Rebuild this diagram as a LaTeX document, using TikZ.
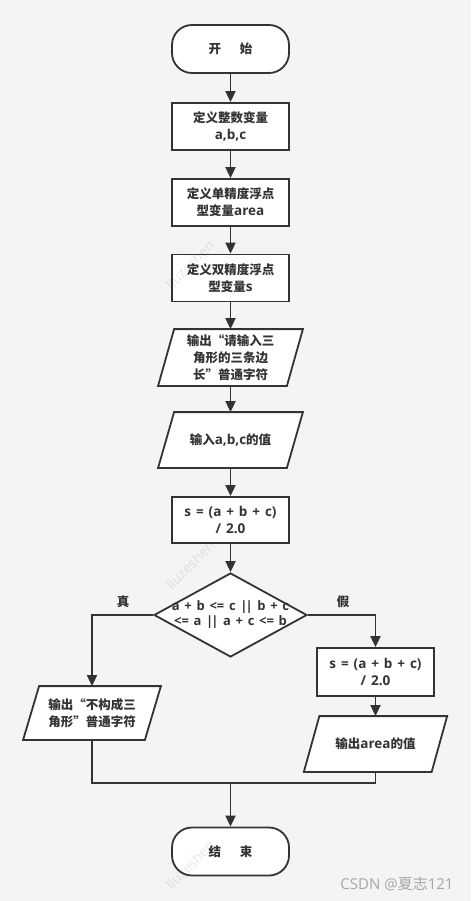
\documentclass[tikz,border=0pt]{standalone}
\usepackage{fontspec}
\setmainfont{Noto Sans CJK SC}
\newfontfamily\lat[Scale=1.08,WordSpace=1.4]{Open Sans}
\newfontfamily\latwm{Open Sans}
\usetikzlibrary{shapes.geometric,arrows.meta}
\pgfdeclarelayer{bg}
\pgfsetlayers{bg,main}
\definecolor{ln}{HTML}{333333}
\definecolor{bgc}{HTML}{F4F4F4}
\definecolor{csdn}{HTML}{A6A6A6}
\tikzset{
  base/.style={draw=ln, line width=1.8pt, fill=white, text=ln, align=center, inner sep=0pt,
    font=\fontsize{12.5}{17}\selectfont\bfseries},
  proc/.style={base, rectangle, minimum width=117pt, minimum height=47pt},
  term/.style={base, rectangle, rounded corners=20pt, minimum width=117pt, minimum height=48pt},
  io/.style={base, rectangle, draw=none, fill=none},
  ioline/.style={draw=ln, line width=1.8pt, fill=white},
  decision/.style={base, diamond, minimum width=153pt, minimum height=84pt},
  dtext/.style={text=ln, align=center, inner sep=0pt, font=\fontsize{12}{15}\selectfont\bfseries},
  lab/.style={text=ln, inner sep=0pt, font=\fontsize{12.5}{15}\selectfont\bfseries},
  wire/.style={draw=ln, line width=1.8pt},
  arr/.style={wire, -{Triangle[length=11pt,width=10pt]}},
  wmark/.style={rotate=45, text=black, opacity=0.09, inner sep=0pt, font=\fontsize{14}{14}\selectfont\latwm}
}
\newcommand\ioshape[2]{%
  \begin{pgfonlayer}{bg}
  \draw[ioline] ([xshift=#2]#1.north west) -- ([xshift=#2]#1.north east)
     -- ([xshift=-#2]#1.south east) -- ([xshift=-#2]#1.south west) -- cycle;
  \end{pgfonlayer}}
\begin{document}
\begin{tikzpicture}[x=1pt,y=-1pt]
\begin{pgfonlayer}{bg}
\fill[bgc] (0,0) rectangle (471,901);
\end{pgfonlayer}
\useasboundingbox (0,0) rectangle (471,901);
\clip (0,0) rectangle (471,901);

\node[term] (start) at (230.5,49) {开\hspace{1.5em}始};
\node[proc] (b1) at (230.5,126.5) {定义整数变量\\{\lat a,b,c}};
\node[proc] (b2) at (230.5,202.5) {定义单精度浮点\\型变量{\lat area}};
\node[proc] (b3) at (230.5,278) {定义双精度浮点\\型变量{\lat s}};
\node[io, minimum width=127pt, minimum height=55pt] (p1) at (230.5,357.5) {输出“请输入三\\角形的三条边\\长”普通字符};
\ioshape{p1}{8pt}
\node[io, minimum width=127pt, minimum height=54pt] (p2) at (230.5,440) {输入{\lat a,b,c}的值};
\ioshape{p2}{8pt}
\node[proc, minimum height=46pt] (b4) at (230.5,520) {\lat s = (a + b + c)\\\lat / 2.0};
\node[decision] (d) at (230.5,615) {};
\node[dtext] (dt) at (d) {\lat a + b <= c |\kern-2pt| b + c\\\lat <= a |\kern-2pt| a + c <= b};
\node[proc, minimum height=48pt] (b5) at (375.5,672) {\lat s = (a + b + c)\\\lat / 2.0};
\node[io, minimum width=120pt, minimum height=52pt] (pL) at (92,713) {输出“不构成三\\角形”普通字符};
\ioshape{pL}{8pt}
\node[io, minimum width=126pt, minimum height=54pt] (pR) at (375.5,744) {输出{\lat area}的值};
\ioshape{pR}{7.75pt}
\node[term] (end) at (230.5,851.5) {结\hspace{1.5em}束};

\node[lab] (t) at (123,602) {真};
\node[lab] (f) at (343,602) {假};

\draw[arr] (start) -- (b1);
\draw[arr] (b1) -- (b2);
\draw[arr] (b2) -- (b3);
\draw[arr] (b3) -- (p1);
\draw[arr] (p1) -- (p2);
\draw[arr] (p2) -- (b4);
\draw[arr] (b4) -- (d);
\draw[arr] (d.west) -| (pL.north);
\draw[arr] (d.east) -| (b5.north);
\draw[arr] (b5) -- (pR);
\coordinate (m) at (230.5,783);
\draw[wire] (pL.south) |- (m);
\draw[wire] (pR.south) |- (m);
\draw[arr] (m) -- (end.north);

\node[text=csdn, inner sep=0pt, font=\fontsize{15}{15}\selectfont] (csdn) at (397,884) {{\latwm CSDN @}夏志{\latwm 121}};

\foreach \j in {0,1,2}{
  \node[wmark] (wm\j) at (190, 265+300*\j) {liuzeshen};
}
\end{tikzpicture}
\end{document}
